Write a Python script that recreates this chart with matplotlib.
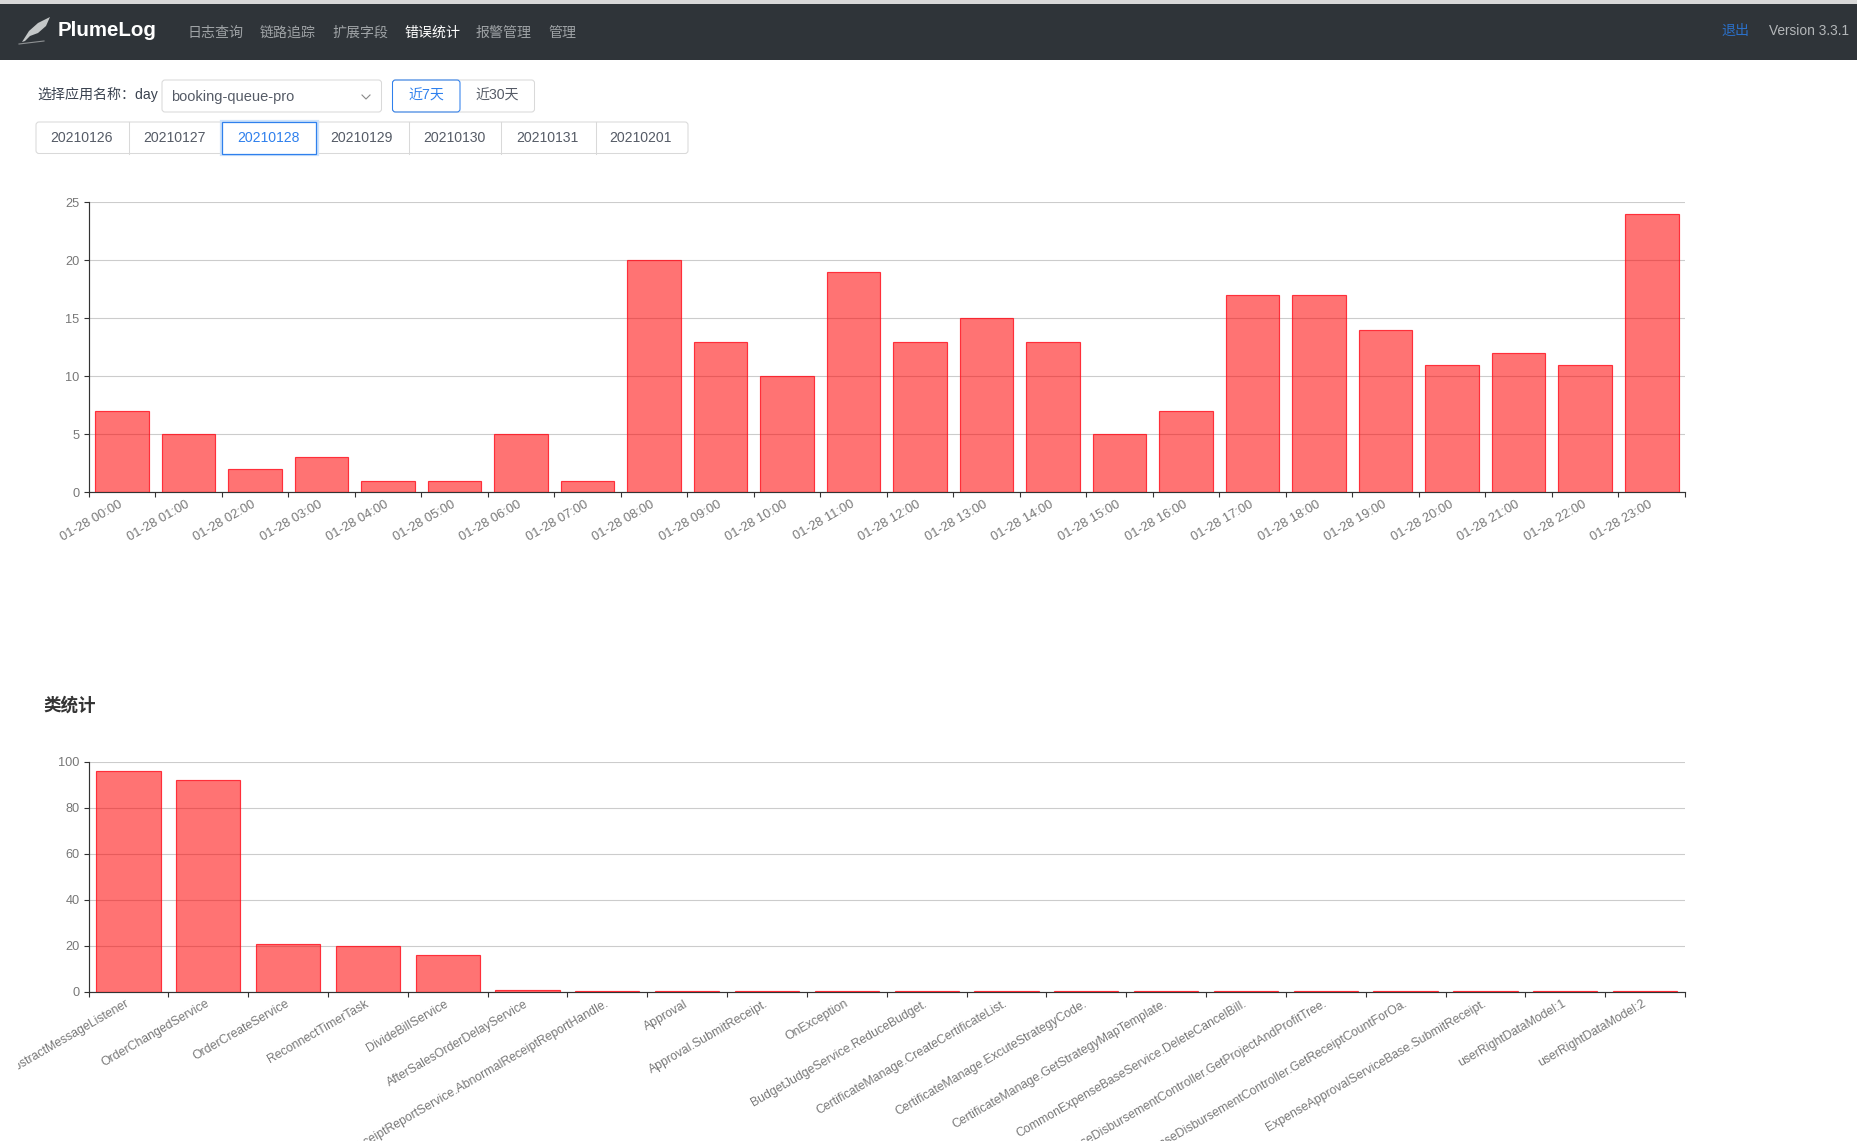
import matplotlib
matplotlib.use("Agg")
import matplotlib.pyplot as plt
import numpy as np
from matplotlib.patches import FancyBboxPatch, Rectangle, Polygon
from matplotlib.transforms import Bbox

plt.rcParams['font.family'] = ['Liberation Sans', 'Noto Sans CJK SC', 'DejaVu Sans']

hours = ['01-28 %02d:00' % h for h in range(24)]
hourly_errors = [7, 5, 2, 3, 1, 1, 5, 1, 20, 13, 10, 19, 13, 15, 13, 5, 7, 17, 17, 14, 11, 12, 11, 24]
class_names = [
    'AbstractMessageListener', 'OrderChangedService', 'OrderCreateService', 'ReconnectTimerTask',
    'DivideBillService', 'AfterSalesOrderDelayService',
    'ReceiptReportService.AbnormalReceiptReportHandle.', 'Approval', 'Approval.SubmitReceipt.',
    'OnException', 'BudgetJudgeService.ReduceBudget.', 'CertificateManage.CreateCertificateList.',
    'CertificateManage.ExcuteStrategyCode.', 'CertificateManage.GetStrategyMapTemplate.',
    'CommonExpenseBaseService.DeleteCancelBill.',
    'ExpenseDisbursementController.GetProjectAndProfitTree.',
    'ExpenseDisbursementController.GetReceiptCountForOa.',
    'ExpenseApprovalServiceBase.SubmitReceipt.', 'userRightDataModel:1', 'userRightDataModel:2']
class_errors = [96, 92, 21, 20, 16, 1, 0.4, 0.4, 0.4, 0.4, 0.4, 0.4, 0.4, 0.4, 0.4, 0.4, 0.4, 0.4, 0.4, 0.4]
nav_items = ['日志查询', '链路追踪', '扩展字段', '错误统计', '报警管理', '管理']
dates = ['20210126', '20210127', '20210128', '20210129', '20210130', '20210131', '20210201']

W, H = 1857, 1141
fig = plt.figure(figsize=(W / 100, H / 100), dpi=100, facecolor='white')
PX = 0.72  # points per pixel at dpi 100

ui = fig.add_axes([0, 0, 1, 1], zorder=0)
ui.set_xlim(0, W)
ui.set_ylim(H, 0)
ui.axis('off')


def label(x, y, s, px=14, color='#555b66', ha='left', **kw):
    ui.text(x, y, s, fontsize=px * PX, color=color, ha=ha, va='center', **kw)


def box(x0, y0, x1, y1, ec='#d9d9d9', fc='white', r=3, lw=0.75, z=1):
    ui.add_patch(FancyBboxPatch((x0 + r, y0 + r), x1 - x0 - 2 * r, y1 - y0 - 2 * r,
                                boxstyle='round,pad=%g,rounding_size=%g' % (r, r),
                                ec=ec, fc=fc, lw=lw, zorder=z))


# navigation bar
ui.add_patch(Rectangle((0, 0), W, 4, fc='#d8d8d8', ec='none'))
ui.add_patch(Rectangle((0, 4), W, 56, fc='#2f3439', ec='none'))
ui.add_patch(Polygon([(22, 42), (29, 31), (38, 23), (50, 17), (46, 26), (38, 33), (30, 36), (25, 41)],
                     fc='#c4c7c8', ec='none'))
ui.plot([19, 44], [44, 41], color='#8e9193', lw=0.8)
label(58, 31, 'PlumeLog', px=20.5, color='white', fontweight='bold')
nav_x = [188, 260, 332, 404, 476, 548]
for x, s in zip(nav_x, nav_items):
    label(x, 33, s, color='white' if s == '错误统计' else '#9fa3a6')
label(1721, 31, '退出', color='#2b70c9')
label(1769, 31, 'Version 3.3.1', px=13.8, color='#b4b7b9')

# filter controls
label(37, 95, '选择应用名称：day', color='#3b4350')
box(162, 80, 381.5, 112)
label(171, 97, 'booking-queue-pro', px=14.6, color='#555b66')
ui.plot([362, 366, 370], [95, 99, 95], color='#888888', lw=0.8)
box(392.5, 80, 534.5, 112)
box(392.5, 80, 460, 112, ec='#2f80ed', fc='none', z=2)
label(426, 96, '近7天', color='#2f80ed', ha='center')
label(497, 96, '近30天', ha='center')

box(36, 122, 688, 153.5)
edges = [36, 128.5, 222, 316, 408.6, 501.4, 595.5, 688]
for i, s in enumerate(dates):
    sel = s == '20210128'
    if i and not sel and dates[i - 1] != '20210128':
        ui.plot([edges[i]] * 2, [122, 153.5], color='#d9d9d9', lw=0.75)
    if sel:
        ui.add_patch(Rectangle((edges[i] - 1.5, 120.5), edges[i + 1] - edges[i] + 3, 34.5, fc='none',
                               ec='#cfe3fa', lw=1.6, zorder=2))
        ui.add_patch(Rectangle((edges[i], 122), edges[i + 1] - edges[i], 31.5, fc='white',
                               ec='#2f80ed', lw=0.9, zorder=3))
    ui.text((edges[i] + edges[i + 1]) / 2 - 1, 138, s, fontsize=14 * PX, ha='center', va='center',
            color='#2f80ed' if sel else '#555b66', zorder=4)

label(43, 705, '类统计', px=17.5, color='#333333', fontweight='bold')


def bar_chart(px_box, names, values, yticks, xsize, clip_left=None):
    x0, y0, x1, y1 = px_box
    ax = fig.add_axes([x0 / W, 1 - y1 / H, (x1 - x0) / W, (y1 - y0) / H], zorder=2)
    ax.patch.set_alpha(0)
    n = len(names)
    pos = np.arange(n)
    ax.bar(pos, values, width=0.805, color=(1, 0, 0, 0.55), edgecolor=(1, 0.05, 0.1, 0.8),
           linewidth=0.85, zorder=3)
    ax.set_xlim(-0.5, n - 0.5)
    ax.set_ylim(yticks[0], yticks[-1])
    ax.set_yticks(yticks)
    ax.yaxis.grid(True, color='#cccccc', lw=0.8, zorder=1)
    ax.set_axisbelow(True)
    for s in ('top', 'right'):
        ax.spines[s].set_visible(False)
    for s in ('left', 'bottom'):
        ax.spines[s].set_color('#333333')
        ax.spines[s].set_linewidth(0.85)
        ax.spines[s].set_zorder(2)
    ax.tick_params(axis='y', length=5 * PX, width=0.8, color='#333333', labelsize=12.8 * PX,
                   labelcolor='#777777', pad=4 * PX)
    ax.set_xticks(pos)
    ax.set_xticks(np.arange(n + 1) - 0.5, minor=True)
    ax.tick_params(axis='x', which='minor', length=5 * PX, width=0.8, color='#333333')
    ax.tick_params(axis='x', which='major', length=0, labelsize=xsize * PX, labelcolor='#777777', pad=11 * PX)
    ax.set_xticklabels(names, rotation=30, ha='right', va='center', rotation_mode='anchor')
    if clip_left is not None:
        for t in ax.get_xticklabels():
            t.set_clip_box(Bbox([[clip_left, 0], [W, H]]))
            t.set_clip_on(True)
    return ax


bar_chart((88.5, 202.3, 1685, 492.3), hours, hourly_errors, [0, 5, 10, 15, 20, 25], 12.9)
bar_chart((88.5, 762, 1685, 992), class_names, class_errors, [0, 20, 40, 60, 80, 100], 12.2, clip_left=18)

fig.savefig('out.png', dpi=100)
